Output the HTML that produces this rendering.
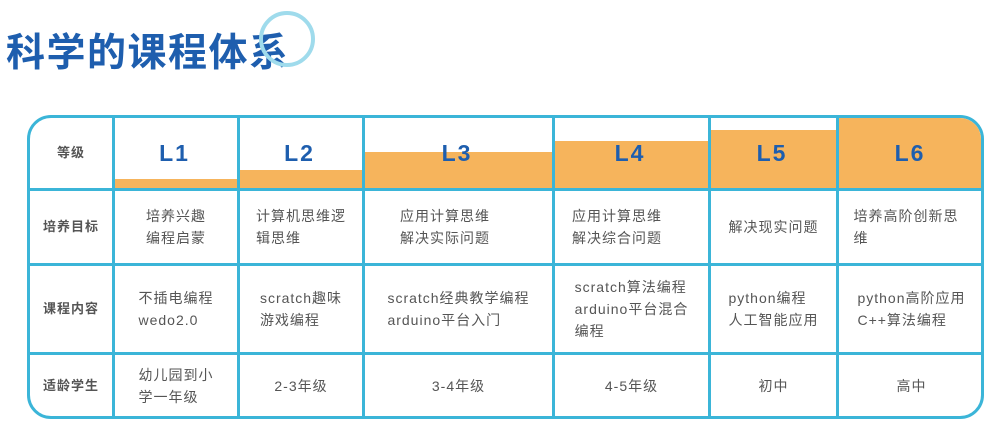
<!DOCTYPE html>
<html><head><meta charset="utf-8"><style>
*{margin:0;padding:0;box-sizing:border-box}
body{width:1007px;height:433px;background:#fff;position:relative;overflow:hidden;font-family:"Liberation Sans","Noto Sans CJK SC",sans-serif}
.title{position:absolute;left:6px;top:28px;font-size:39px;font-weight:bold;color:#1e5eae;letter-spacing:1.5px;line-height:52px}
.circ{position:absolute;left:259px;top:11px;width:56px;height:56px;border:4px solid #9fdbec;border-radius:50%}
.tbl{position:absolute;left:27px;top:115px;width:957px;height:304px;border:3px solid #3bb5d8;border-radius:24px;overflow:hidden;background:#fff}
.bar{position:absolute;background:#f6b45c}
.v{position:absolute;top:0;bottom:0;width:3px;background:#3bb5d8}
.h{position:absolute;left:0;right:0;height:3px;background:#3bb5d8}
.c{position:absolute;display:flex;align-items:center;justify-content:center;color:#555;font-size:14px;line-height:22px;letter-spacing:1px}
.c div{text-align:left}
.hd{font-weight:bold;font-size:13px;color:#555}
.L{color:#1e5eae;font-weight:bold;font-size:23px;letter-spacing:2px}
</style></head><body>
<div class="title">科学的课程体系</div>
<div class="circ"></div>
<div class="tbl">
 <div class="bar" style="left:85px;width:125px;top:61px;height:12px"></div>
 <div class="bar" style="left:210px;width:125px;top:52px;height:21px"></div>
 <div class="bar" style="left:335px;width:190px;top:34px;height:39px"></div>
 <div class="bar" style="left:525px;width:156px;top:23px;height:50px"></div>
 <div class="bar" style="left:681px;width:128px;top:12px;height:61px"></div>
 <div class="bar" style="left:809px;width:150px;top:0;height:73px"></div>
 <div class="v" style="left:82px"></div>
 <div class="v" style="left:207px"></div>
 <div class="v" style="left:332px"></div>
 <div class="v" style="left:522px"></div>
 <div class="v" style="left:678px"></div>
 <div class="v" style="left:806px"></div>
 <div class="h" style="top:70px"></div>
 <div class="h" style="top:145px"></div>
 <div class="h" style="top:234px"></div>
</div>
<div class="c hd" style="left:30px;top:118px;width:82px;height:70px">等级</div>
<div class="c L" style="left:112px;top:118px;width:125px;height:70px">L1</div>
<div class="c L" style="left:237px;top:118px;width:125px;height:70px">L2</div>
<div class="c L" style="left:362px;top:118px;width:190px;height:70px">L3</div>
<div class="c L" style="left:552px;top:118px;width:156px;height:70px">L4</div>
<div class="c L" style="left:708px;top:118px;width:128px;height:70px">L5</div>
<div class="c L" style="left:836px;top:118px;width:148px;height:70px">L6</div>
<div class="c hd" style="left:30px;top:191px;width:82px;height:72px">培养目标</div>
<div class="c" style="left:115px;top:191px;width:122px;height:72px"><div>培养兴趣<br>编程启蒙</div></div>
<div class="c" style="left:240px;top:191px;width:122px;height:72px"><div>计算机思维逻<br>辑思维</div></div>
<div class="c" style="left:365px;top:191px;width:160px;height:72px"><div>应用计算思维<br>解决实际问题</div></div>
<div class="c" style="left:555px;top:191px;width:124px;height:72px"><div>应用计算思维<br>解决综合问题</div></div>
<div class="c" style="left:711px;top:191px;width:125px;height:72px"><div>解决现实问题</div></div>
<div class="c" style="left:839px;top:191px;width:134px;height:72px"><div>培养高阶创新思<br>维</div></div>
<div class="c hd" style="left:30px;top:266px;width:82px;height:86px">课程内容</div>
<div class="c" style="left:115px;top:266px;width:122px;height:86px"><div>不插电编程<br>wedo2.0</div></div>
<div class="c" style="left:240px;top:266px;width:122px;height:86px"><div>scratch趣味<br>游戏编程</div></div>
<div class="c" style="left:365px;top:266px;width:187px;height:86px"><div>scratch经典教学编程<br>arduino平台入门</div></div>
<div class="c" style="left:555px;top:266px;width:153px;height:86px"><div>scratch算法编程<br>arduino平台混合<br>编程</div></div>
<div class="c" style="left:711px;top:266px;width:125px;height:86px"><div>python编程<br>人工智能应用</div></div>
<div class="c" style="left:839px;top:266px;width:145px;height:86px"><div>python高阶应用<br>C++算法编程</div></div>
<div class="c hd" style="left:30px;top:355px;width:82px;height:62px">适龄学生</div>
<div class="c" style="left:115px;top:355px;width:122px;height:62px"><div>幼儿园到小<br>学一年级</div></div>
<div class="c" style="left:240px;top:355px;width:122px;height:62px">2-3年级</div>
<div class="c" style="left:365px;top:355px;width:187px;height:62px">3-4年级</div>
<div class="c" style="left:555px;top:355px;width:153px;height:62px">4-5年级</div>
<div class="c" style="left:711px;top:355px;width:125px;height:62px">初中</div>
<div class="c" style="left:839px;top:355px;width:145px;height:62px">高中</div>
</body></html>
